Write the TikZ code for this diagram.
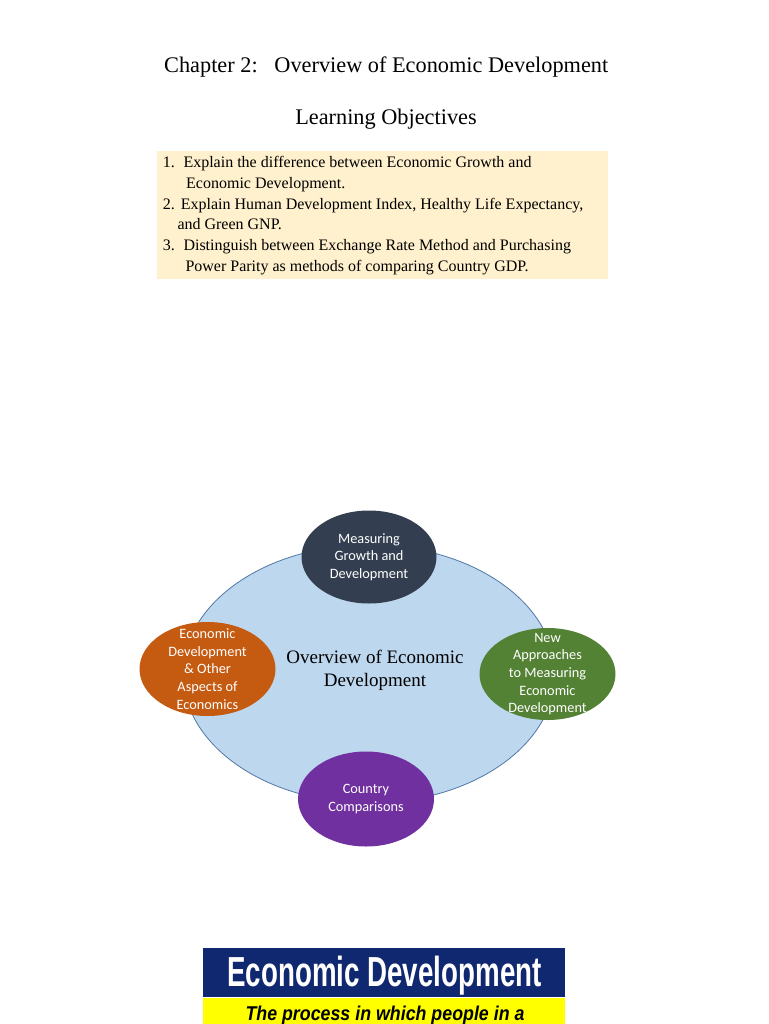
\documentclass[tikz,border=0pt]{standalone}
\usepackage{fontspec}
\setmainfont{Liberation Serif}
\newfontfamily\calibfont{Carlito}
\newfontfamily\bannerfont[FakeStretch=0.66]{Liberation Sans}
\newfontfamily\subbannerfont[FakeStretch=0.89]{Liberation Sans}
\usetikzlibrary{shapes.geometric}
\definecolor{objbg}{RGB}{255,241,205}
\definecolor{bigfill}{RGB}{189,215,238}
\definecolor{bigline}{RGB}{80,120,165}
\definecolor{navyell}{RGB}{51,63,80}
\definecolor{orangeell}{RGB}{197,90,17}
\definecolor{greenell}{RGB}{84,130,53}
\definecolor{purpleell}{RGB}{112,48,160}
\definecolor{bannernavy}{RGB}{16,40,112}
\definecolor{banneryellow}{RGB}{255,255,0}
\tikzset{
  heading/.style={font=\fontsize{22.3}{26}\selectfont, inner sep=0},
  objline/.style={anchor=base west, inner sep=0, font=\fontsize{16}{19}\selectfont},
  small ellipse/.style={ellipse, inner sep=0, minimum width=136, minimum height=94},
  ell text/.style={text=white, align=center, inner sep=0, font=\calibfont\fontsize{14.3}{17.7}\selectfont},
}
\begin{document}
\begin{tikzpicture}[x=1pt,y=-1pt]
\useasboundingbox (0,0) rectangle (768,1024);
% headings
\node[heading, anchor=base west] (title) at (164,73) {Chapter 2:\ \ \ Overview of Economic Development};
\node[heading, anchor=base] (lo) at (386,125) {Learning Objectives};
% objectives box
\node[fill=objbg, inner sep=0, minimum width=451, minimum height=128, anchor=north west] (obox) at (157,151) {};
\node[objline] (n1) at (162.7,168) {1.};
\node[objline] (t1a) at (183.3,168) {Explain the difference between Economic Growth and};
\node[objline] (t1b) at (186,189) {Economic Development.};
\node[objline] (n2) at (162.7,209.3) {2.};
\node[objline] (t2a) at (180.7,209.3) {Explain Human Development Index, Healthy Life Expectancy,};
\node[objline] (t2b) at (177.3,229.5) {and Green GNP.};
\node[objline] (n3) at (162.7,250.7) {3.};
\node[objline] (t3a) at (183.3,250.7) {Distinguish between Exchange Rate Method and Purchasing};
\node[objline] (t3b) at (185.3,271) {Power Parity as methods of comparing Country GDP.};
% diagram
\node[ellipse, fill=bigfill, draw=bigline, line width=0.8pt, inner sep=0, minimum width=372, minimum height=258] (big) at (369,674) {};
\node[align=center, inner sep=0, font=\fontsize{19}{23}\selectfont] (bigT) at (375,670) {Overview of Economic\\Development};
\node[small ellipse, fill=navyell, minimum width=135, minimum height=93] (top) at (369,557) {};
\node[small ellipse, fill=orangeell] (left) at (207.5,669) {};
\node[small ellipse, fill=greenell, minimum height=92] (right) at (547.5,674) {};
\node[small ellipse, fill=purpleell, minimum height=95] (bottom) at (366,799) {};
\node[ell text] (topT) at (top.center) {Measuring\\Growth and\\Development};
\node[ell text] (leftT) at (left.center) {Economic\\Development\\\& Other\\Aspects of\\Economics};
\node[ell text] (rightT) at (right.center) {New\\Approaches\\to Measuring\\Economic\\Development};
\node[ell text] (bottomT) at (bottom.center) {Country\\Comparisons};
% banner
\node[fill=bannernavy, inner sep=0, minimum width=362, minimum height=49, anchor=north west] (banner) at (203,948) {};
\node[fill=banneryellow, inner sep=0, minimum width=362, minimum height=26, anchor=north west] (subbanner) at (203,998) {};
\node[anchor=base, inner sep=0, text=white, font=\bannerfont\bfseries\fontsize{42}{46}\selectfont] (bannerT) at (384.5,986.7) {Economic Development};
\node[anchor=base, inner sep=0, text=black, font=\subbannerfont\bfseries\itshape\fontsize{20}{23}\selectfont] (subbannerT) at (385,1020) {The process in which people in a};
\end{tikzpicture}
\end{document}
